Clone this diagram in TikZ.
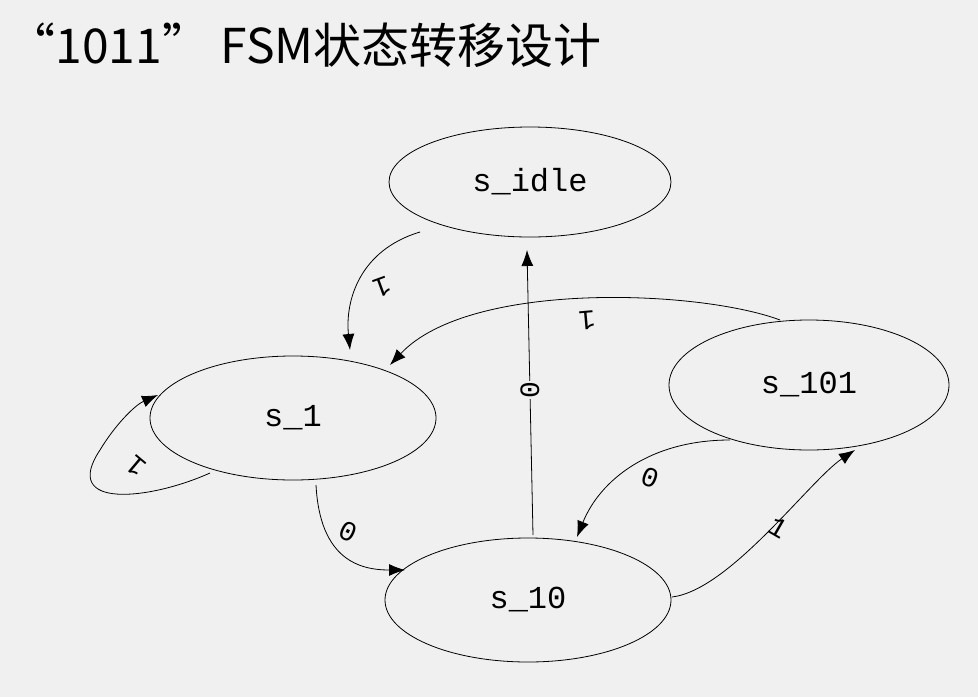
\documentclass[tikz,border=0pt]{standalone}
\usepackage{fontspec}
\setmainfont{Liberation Serif}
\newfontfamily\cjk{Noto Sans CJK SC}
\newfontfamily\monof{Liberation Mono}
\usetikzlibrary{arrows.meta,shapes.geometric}
\begin{document}
\begin{tikzpicture}[x=1pt,y=-1pt,
  st/.style={draw,ellipse,inner sep=0pt,line width=0.8pt,font=\monof\fontsize{32}{34}\selectfont},
  tr/.style={-{Latex[length=16pt,width=12pt]},line width=0.8pt},
  lb/.style={font=\monof\fontsize{28}{30}\selectfont,fill=none,inner sep=1pt}]
\fill[gray!12] (0,0) rectangle (978,697);
\useasboundingbox (0,0) rectangle (978,697);
\node[anchor=west,font=\cjk\fontsize{48}{52}\selectfont] (title) at (4,45) {“1011” FSM状态转移设计};
\node[st,minimum width=282pt,minimum height=110pt] (idle) at (530,182) {s\_idle};
\node[st,minimum width=286pt,minimum height=124pt] (s1) at (293,418) {s\_1};
\node[st,minimum width=280pt,minimum height=130pt] (s101) at (809,385) {s\_101};
\node[st,minimum width=286pt,minimum height=124pt] (s10) at (528,600) {s\_10};
\coordinate (a1) at (420,232); \coordinate (a2) at (350,350);
\draw[tr] (a1) .. controls (360,250) and (345,300) .. (a2);
\node[lb,rotate=200] at (382,287) {1};
\coordinate (b1) at (780,320); \coordinate (b2) at (390,365);
\draw[tr] (b1) .. controls (700,290) and (470,280) .. (b2);
\node[lb,rotate=185] at (587,320) {1};
\coordinate (c1) at (210,473); \coordinate (c2) at (158,395);
\draw[tr] (c1) .. controls (150,500) and (60,510) .. (100,450) .. controls (115,425) and (135,405) .. (c2);
\node[lb,rotate=140] at (136,466) {1};
\coordinate (d1) at (316,485); \coordinate (d2) at (405,570);
\draw[tr] (d1) .. controls (320,560) and (360,570) .. (d2);
\node[lb,rotate=-25] at (348,532) {0};
\coordinate (e1) at (533,535); \coordinate (e2) at (527,250);
\draw[tr] (e1) -- (e2);
\node[lb,rotate=90,fill=gray!12] at (530,390) {0};
\coordinate (f1) at (730,440); \coordinate (f2) at (577,537);
\draw[tr] (f1) .. controls (650,440) and (600,480) .. (f2);
\node[lb,rotate=-20] at (650,478) {0};
\coordinate (g1) at (672,597); \coordinate (g2) at (855,450);
\draw[tr] (g1) .. controls (730,590) and (810,480) .. (g2);
\node[lb,rotate=-30] at (778,528) {1};
\end{tikzpicture}
\end{document}
